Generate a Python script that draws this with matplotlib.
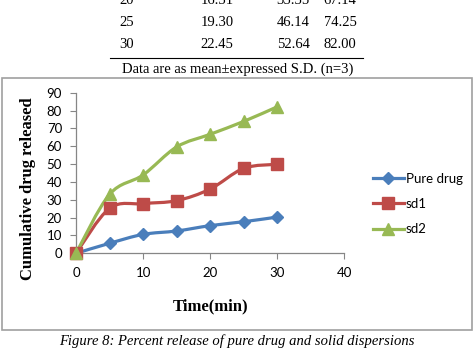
import matplotlib
matplotlib.use("Agg")
import matplotlib.pyplot as plt
from matplotlib.path import Path
from matplotlib.patches import PathPatch, Rectangle
from matplotlib.lines import Line2D
import numpy as np

time = [0, 5, 10, 15, 20, 25, 30]
pure_drug = [0, 5.6, 10.6, 12.5, 15.5, 17.7, 20.3]
sd1 = [0, 25.2, 27.8, 29.5, 36.0, 47.6, 49.9]
sd2 = [0, 33.0, 43.9, 59.6, 66.7, 73.9, 82.1]
series_names = ["Pure drug", "sd1", "sd2"]

table_rows = [["20", "16.31", "35.35", "67.14"],
              ["25", "19.30", "46.14", "74.25"],
              ["30", "22.45", "52.64", "82.00"]]

W, H = 474, 349
fig = plt.figure(figsize=(W / 100, H / 100), dpi=100)
serif = "Liberation Serif"
sans = "Lato"

def fx(px):
    return px / W

def fy(py):
    return 1 - py / H

# table fragment
col_x = [127, 217, 293, 340]
row_y = [1, 23, 45]
for r, yy in zip(table_rows, row_y):
    for c, xx in zip(r, col_x):
        fig.text(fx(xx), fy(yy), c, ha="center", va="center", family=serif, fontsize=10.5)
fig.add_artist(Line2D([fx(110), fx(363)], [fy(58), fy(58)], color="black", lw=0.8))
fig.text(fx(238), fy(69), "Data are as mean\u00b1expressed S.D. (n=3)", ha="center", va="center",
         family=serif, fontsize=10.5)

# chart border
fig.add_artist(Rectangle((fx(2), fy(330)), fx(470), (330 - 78) / H, fill=False,
                         edgecolor="#a0a0a0", lw=1.2))

ax = fig.add_axes([fx(76), fy(253.3), (344.3 - 76) / W, 160.6 / H])
ax.set_xlim(0, 40)
ax.set_ylim(0, 90)
ax.set_xticks(range(0, 41, 10))
ax.set_yticks(range(0, 91, 10))
for s in ["top", "right"]:
    ax.spines[s].set_visible(False)
for s in ["left", "bottom"]:
    ax.spines[s].set_color("#868686")
    ax.spines[s].set_linewidth(0.9)
ax.tick_params(direction="out", length=4, color="#868686", labelsize=9.5, pad=6)
for lab in ax.get_xticklabels() + ax.get_yticklabels():
    lab.set_family(sans)

def smooth_path(x, y):
    pts = np.column_stack([x, y]).astype(float)
    n = len(pts)
    verts = [pts[0]]
    codes = [Path.MOVETO]
    for i in range(n - 1):
        p0 = pts[i - 1] if i > 0 else pts[i]
        p1 = pts[i]
        p2 = pts[i + 1]
        p3 = pts[i + 2] if i + 2 < n else pts[i + 1]
        c1 = p1 + (p2 - p0) / 6
        c2 = p2 - (p3 - p1) / 6
        verts += [c1, c2, p2]
        codes += [Path.CURVE4] * 3
    return Path(verts, codes)

colors = ["#4a7ebb", "#be4b48", "#98b954"]
markers = ["D", "s", "^"]
msizes = [6, 9, 9]
handles = []
for vals, name, col, mk, ms in zip([pure_drug, sd1, sd2], series_names, colors, markers, msizes):
    ax.add_patch(PathPatch(smooth_path(time, vals), facecolor="none", edgecolor=col, lw=2.3,
                           clip_on=False, zorder=2))
    ax.plot(time, vals, linestyle="none", marker=mk, markersize=ms, color=col, clip_on=False, zorder=3)
    handles.append(Line2D([], [], color=col, lw=2.3, marker=mk, markersize=ms))

fig.legend(handles, series_names, loc="center left", bbox_to_anchor=(fx(366), fy(204)),
           frameon=False, prop={"family": sans, "size": 9.5}, handlelength=2.4,
           handletextpad=0.1, labelspacing=1.0, borderpad=0)

fig.text(fx(28), fy(189), "Cumulative drug released", rotation=90, ha="center", va="center",
         family=serif, fontweight="bold", fontsize=12)
fig.text(fx(211), fy(306), "Time(min)", ha="center", va="center",
         family=serif, fontweight="bold", fontsize=12)

fig.text(fx(237), fy(341), "Figure 8: Percent release of pure drug and solid dispersions",
         ha="center", va="center", family=serif, style="italic", fontsize=10.5)

fig.savefig("out.png", dpi=100)
